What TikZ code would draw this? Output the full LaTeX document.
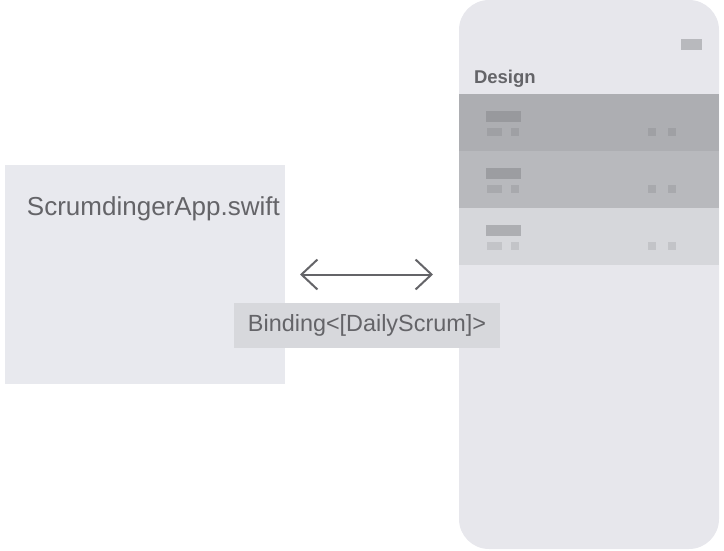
\documentclass[tikz,border=0pt]{standalone}
\usepackage{fontspec}
\setmainfont{Liberation Sans}
\usepackage{xcolor}
\usepackage{tikz}
\usetikzlibrary{arrows.meta, positioning}

\definecolor{screen}{RGB}{231,231,236}
\definecolor{filebox}{RGB}{232,233,238}
\definecolor{tagbox}{RGB}{215,216,220}
\definecolor{ink}{RGB}{100,100,104}
\definecolor{rowA}{RGB}{173,174,178}
\definecolor{rowB}{RGB}{184,185,189}
\definecolor{rowC}{RGB}{214,215,219}
\definecolor{barA}{RGB}{152,153,157}
\definecolor{barB}{RGB}{156,157,161}
\definecolor{barC}{RGB}{173,174,178}
\definecolor{dotA}{RGB}{159,160,164}
\definecolor{dotB}{RGB}{168,169,173}
\definecolor{dotC}{RGB}{195,196,200}

\begin{document}
\begin{tikzpicture}[
    x=1pt, y=-1pt,
    every node/.style = {inner sep=0pt, outer sep=0pt},
    panel/.style = {draw=none, anchor=north west},
    listrow/.style = {panel, minimum width=260pt, minimum height=57pt},
    blob/.style = {panel},
    caption/.style = {text=ink, font=\fontsize{26}{30}\selectfont},
    link/.style = {draw=ink, line width=2pt,
                   {Straight Barb[length=16pt, width=30pt]}-{Straight Barb[length=16pt, width=30pt]}},
                            ]
    \useasboundingbox (0,0) rectangle (724,550);
    \node (phone) [panel, fill=screen, rounded corners=30pt,
                   minimum width=260pt, minimum height=549pt] at (459,0) {};
    \node (app) [panel, fill=filebox, minimum width=280pt, minimum height=219pt] at (5,165) {};
    \node (appname) [caption, anchor=base west] at (27,215) {ScrumdingerApp.swift};
    \node (binding) [fill=tagbox, minimum width=266pt, minimum height=45pt,
                     caption, font=\fontsize{23.4}{28}\selectfont] at (367,325.5) {Binding<[DailyScrum]>};
    \draw [link, shorten <=15pt, shorten >=26pt] (app.east) -- (phone.west);
    % phone contents
    \node (more) [blob, fill=rowB, minimum width=21pt, minimum height=11pt] at (681,39) {};
    \node (title) [anchor=base west, text=ink, font=\bfseries\fontsize{18.5}{22}\selectfont] at (474,83) {Design};
    \foreach \i/\rc/\bc/\dc in {0/rowA/barA/dotA, 1/rowB/barB/dotB, 2/rowC/barC/dotC} {
        \node (row\i) [listrow, fill=\rc] at (459,94+57*\i) {};
        \node (name\i) [blob, fill=\bc, minimum width=35pt, minimum height=10.5pt] at (486,111+57*\i) {};
        \node (len\i) [blob, fill=\dc, minimum width=15pt, minimum height=7.5pt] at (487,128+57*\i) {};
        \node (lead\i) [blob, fill=\dc, minimum width=7.5pt, minimum height=7.5pt] at (511,128+57*\i) {};
        \node (mark\i) [blob, fill=\dc, minimum width=7.5pt, minimum height=7.5pt] at (648,128+57*\i) {};
        \node (icon\i) [blob, fill=\dc, minimum width=7.5pt, minimum height=7.5pt] at (668,128+57*\i) {};
    }
\end{tikzpicture}
\end{document}
